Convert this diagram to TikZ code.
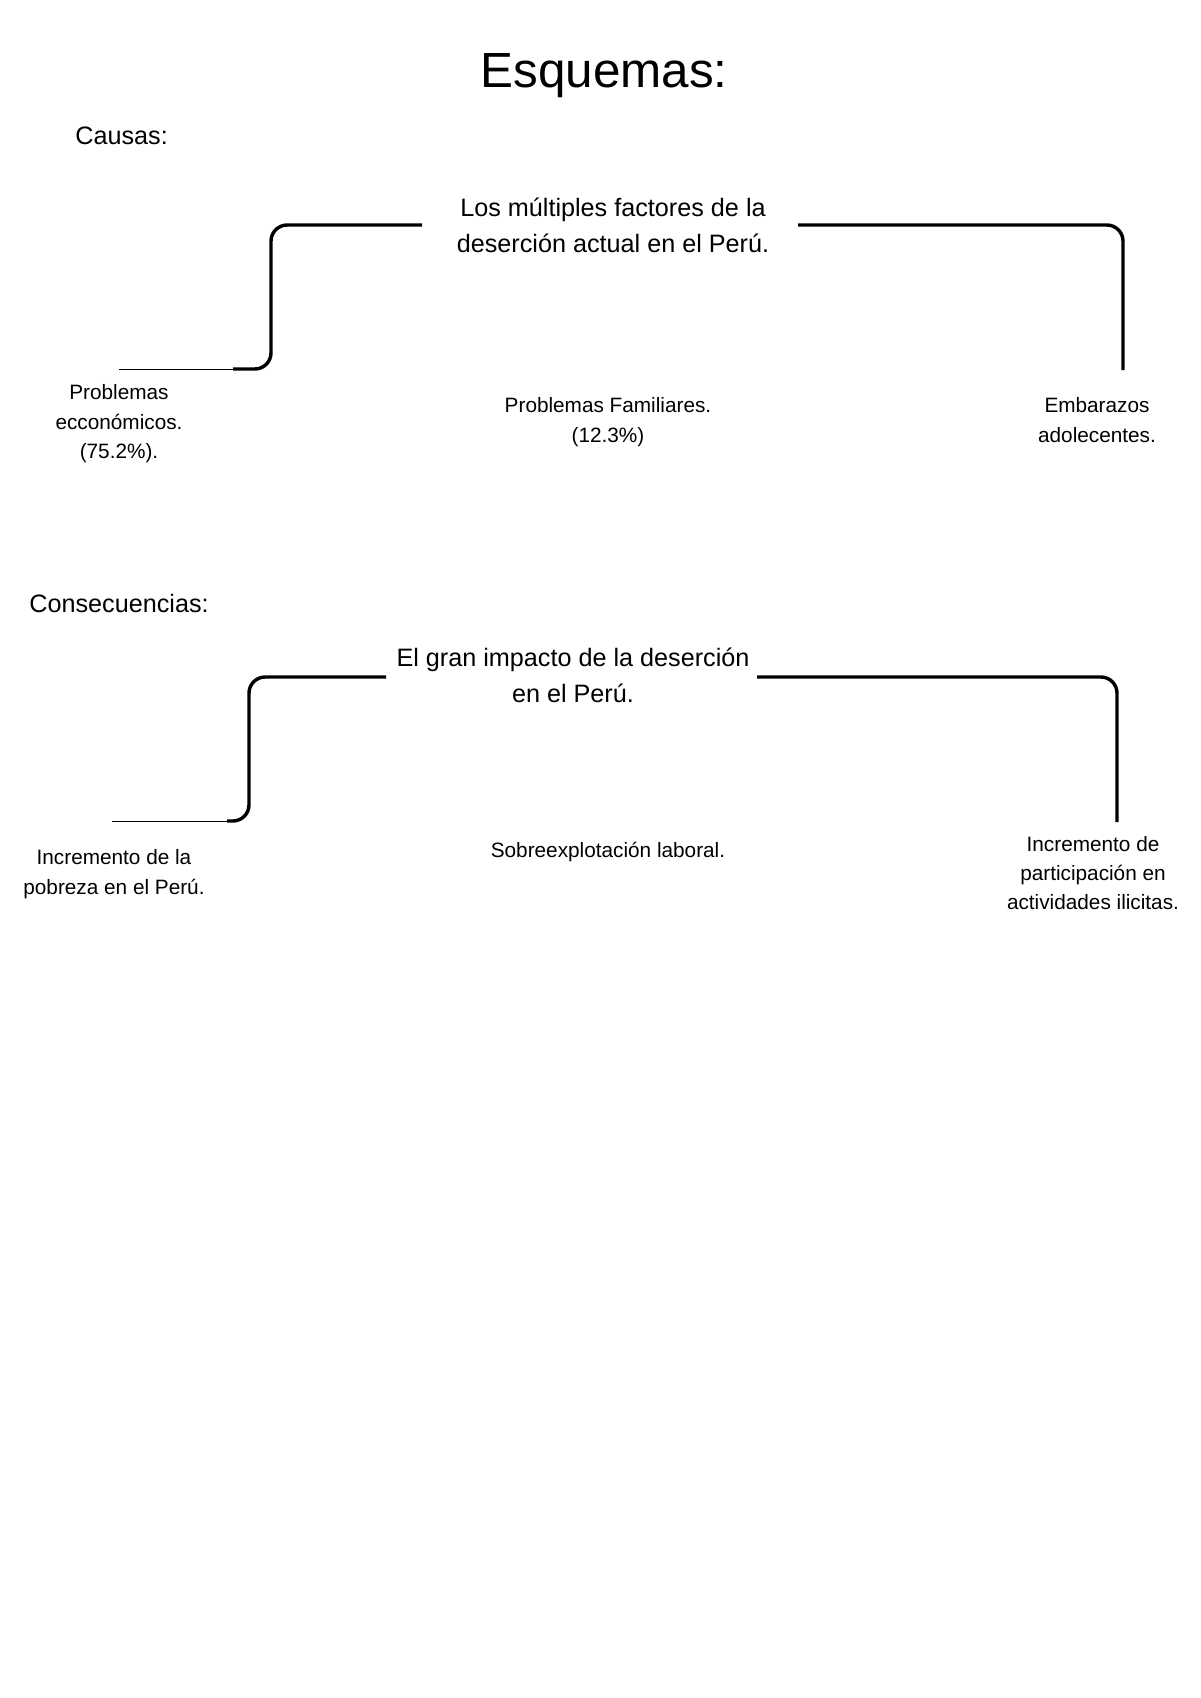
\documentclass[tikz,border=0pt]{standalone}
\usepackage{fontspec}
\setmainfont{Liberation Sans}
\begin{document}
\begin{tikzpicture}[x=0.4961pt,y=-0.4961pt,
		brace/.style={black,line width=1.7pt,rounded corners=8pt},
		lead/.style={black,line width=0.5pt},
		head/.style={anchor=base west,inner sep=0pt,font=\fontsize{12.5}{18}\selectfont},
		topic/.style={align=center,inner sep=0pt,font=\fontsize{12.5}{18}\selectfont},
		lbl/.style={align=center,inner sep=0pt,font=\fontsize{10.3}{14.6}\selectfont}]
	\useasboundingbox (0,0) rectangle (1200,1698);
	
	\node[anchor=base,inner sep=0pt,font=\fontsize{24.5}{29}\selectfont] (title) at (604,87) {Esquemas:};
	
	% causas
	\node[head] (causas) at (75,144) {Causas:};
	\node[topic] (factores) at (613,225) {Los múltiples factores de la\\deserción actual en el Perú.};
	\node[lbl] (economicos) at (119,424) {Problemas\\ecconómicos.\\(75.2\%).};
	\node[lbl] (familiares) at (608,422) {Problemas Familiares.\\(12.3\%)};
	\node[lbl] (embarazos) at (1097,420) {Embarazos\\adolecentes.};
	
	\coordinate (c1) at (119,369);
	\coordinate (c2) at (233,369);
	\coordinate (c3) at (422,225);
	\coordinate (c4) at (798,225);
	\coordinate (c5) at (1123,370);
	\draw[lead] (c1) -- (c2);
	\draw[brace] (c2) -| (c3 -| 271,0) -- (c3);
	\draw[brace] (c4) -| (c5);
	
	% consecuencias
	\node[head] (consec) at (29,612) {Consecuencias:};
	\node[topic] (impacto) at (573,675) {El gran impacto de la deserción\\en el Perú.};
	\node[lbl] (pobreza) at (114,874) {Incremento de la\\pobreza en el Perú.};
	\node[lbl] (laboral) at (608,852) {Sobreexplotación laboral.};
	\node[lbl] (ilicitas) at (1093,873) {Incremento de\\participación en\\actividades ilicitas.};
	
	\coordinate (d1) at (112,821);
	\coordinate (d2) at (227,821);
	\coordinate (d3) at (386,677);
	\coordinate (d4) at (757,677);
	\coordinate (d5) at (1117,822);
	\draw[lead] (d1) -- (d2);
	\draw[brace] (d2) -| (d3 -| 249,0) -- (d3);
	\draw[brace] (d4) -| (d5);
\end{tikzpicture}
\end{document}
